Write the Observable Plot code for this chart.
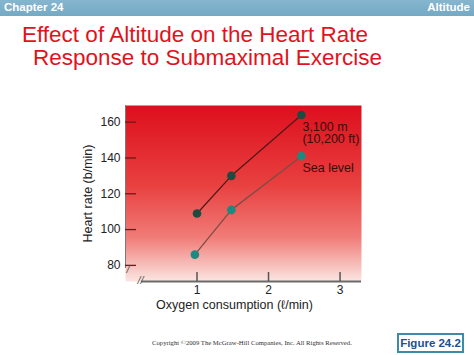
<!DOCTYPE html>
<html>
<head>
<meta charset="utf-8">
<script src="https://cdn.jsdelivr.net/npm/d3@7"></script>
<script src="https://cdn.jsdelivr.net/npm/@observablehq/plot@0.6"></script>
<style>
  html, body { margin: 0; padding: 0; background: #fff; }
  body { width: 474px; height: 355px; position: relative; overflow: hidden; font-family: Arial, "Liberation Sans", Helvetica, sans-serif; }
  #header { position: absolute; left: 0; top: 0; width: 474px; height: 16px; background: linear-gradient(#86b6cf, #74a9c4); z-index: 2; }
  #header span { position: absolute; top: 1px; color: #fff; font-weight: bold; font-size: 11.5px; }
  #title { position: absolute; left: 22px; top: 24px; color: #e0131c; font-size: 22.5px; line-height: 22.5px; z-index: 2; white-space: nowrap; }
  #title div + div { padding-left: 11px; }
  #chart { position: absolute; left: 0; top: 0; z-index: 1; }
  #copyright { position: absolute; left: 152px; top: 339px; font-family: "Liberation Serif", "DejaVu Serif", serif; font-size: 6.7px; color: #333; z-index: 2; white-space: nowrap; }
  #fig { position: absolute; left: 397px; top: 333px; width: 63px; height: 16px; border: 2px solid #3d8ca6; color: #1d4f8f; font-weight: bold; font-size: 11.5px; line-height: 16px; text-align: center; z-index: 2; background: #fff; white-space: nowrap; }
</style>
</head>
<body>
<div id="header"><span style="left:4px">Chapter 24</span><span style="right:4px">Altitude</span></div>
<div id="title"><div>Effect of Altitude on the Heart Rate</div><div>Response to Submaximal Exercise</div></div>
<div id="chart"></div>
<div id="copyright">Copyright ©2009 The McGraw-Hill Companies, Inc. All Rights Reserved.</div>
<div id="fig">Figure 24.2</div>
<script>
// ---- data ----
const seriesNames = ["3,100 m", "Sea level"];
const seriesLabels = ["3,100 m\n(10,200 ft)", "Sea level"];
const o2Altitude = [1.0, 1.48, 2.46];
const hrAltitude = [109, 130, 164];
const o2Sea = [0.97, 1.48, 2.46];
const hrSea = [86, 111, 141];
const xTicks = [1, 2, 3];
const yTicks = [80, 100, 120, 140, 160];
const xLabel = "Oxygen consumption (ℓ/min)";
const yLabel = "Heart rate (b/min)";

const rows = [
  ...o2Altitude.map((x, i) => ({series: seriesNames[0], x, y: hrAltitude[i]})),
  ...o2Sea.map((x, i) => ({series: seriesNames[1], x, y: hrSea[i]}))
];
const lastPoints = seriesNames.map((s, i) => {
  const pts = rows.filter(r => r.series === s);
  return {...pts[pts.length - 1], label: seriesLabels[i]};
});

const lineColor = {"3,100 m": "#541818", "Sea level": "#804c45"};
const dotColor = {"3,100 m": "#1c4c40", "Sea level": "#1c8a80"};

const W = 474, H = 355, mL = 125, mR = 113, mT = 105, mB = 74;
const frameW = W - mL - mR, frameH = H - mT - mB;

const plot = Plot.plot({
  width: W, height: H,
  marginLeft: mL, marginRight: mR, marginTop: mT, marginBottom: mB,
  style: {fontFamily: "Arial, 'Liberation Sans', Helvetica, sans-serif", fontSize: "12px", color: "#222", background: "transparent", overflow: "visible"},
  x: {domain: [0, 3.3]},
  y: {domain: [71, 169.3]},
  marks: [
    Plot.frame({fill: "url(#bgGrad)", stroke: null}),
    Plot.ruleX([0], {stroke: "#7a7a7a", strokeWidth: 1, insetBottom: 13}),
    Plot.ruleY([71], {stroke: "#6a6a6a", strokeWidth: 2, insetLeft: 16}),
    Plot.tickY(yTicks, {y: d => d, stroke: "#6b1a1a", strokeWidth: 1.3, insetRight: frameW - 11}),
    Plot.tickX(xTicks, {x: d => d, stroke: "#555", strokeWidth: 1.5, insetTop: frameH - 9}),
    Plot.axisY({ticks: yTicks, tickSize: 0, tickPadding: 5, label: null, fontSize: 12, fill: "#222", tickFormat: "d"}),
    Plot.axisX({ticks: xTicks, tickSize: 0, tickPadding: 4, label: null, fontSize: 12, fill: "#222", tickFormat: "d"}),
    Plot.text([yLabel], {text: d => d, frameAnchor: "left", textAnchor: "middle", rotate: -90, dx: -38, fontSize: 12.5, fill: "#222"}),
    Plot.text([xLabel], {text: d => d, frameAnchor: "bottom", dx: -9, dy: 27, fontSize: 12.5, fill: "#222"}),
    Plot.text(["/"], {text: d => d, frameAnchor: "bottom-left", dx: 1, dy: -9, fontSize: 11, fill: "#555", fontStyle: "italic"}),
    Plot.text(["//"], {text: d => d, frameAnchor: "bottom-left", dx: 12, dy: 2, fontSize: 11, fill: "#555", fontStyle: "italic"}),
    Plot.line(rows, {x: "x", y: "y", z: "series", stroke: d => lineColor[d.series], strokeWidth: 1.3}),
    Plot.dot(rows, {x: "x", y: "y", r: 4.3, fill: d => dotColor[d.series], stroke: null}),
    Plot.text(lastPoints, {x: "x", y: "y", text: "label", textAnchor: "start", lineAnchor: "top", dx: 1, dy: 7, lineHeight: 1.0, fontSize: 12.5, fill: "#3a0c0c"})
  ]
});

const ns = "http://www.w3.org/2000/svg";
const defs = document.createElementNS(ns, "defs");
const grad = document.createElementNS(ns, "linearGradient");
grad.setAttribute("id", "bgGrad");
grad.setAttribute("x1", "0"); grad.setAttribute("y1", "0");
grad.setAttribute("x2", "0"); grad.setAttribute("y2", "1");
[["0", "#dd0f1e"], ["0.45", "#e8403f"], ["0.75", "#f07c78"], ["1", "#fbe6e2"]].forEach(([o, c]) => {
  const s = document.createElementNS(ns, "stop");
  s.setAttribute("offset", o); s.setAttribute("stop-color", c);
  grad.appendChild(s);
});
defs.appendChild(grad);
plot.insertBefore(defs, plot.firstChild);
document.getElementById("chart").appendChild(plot);
</script>
</body>
</html>
